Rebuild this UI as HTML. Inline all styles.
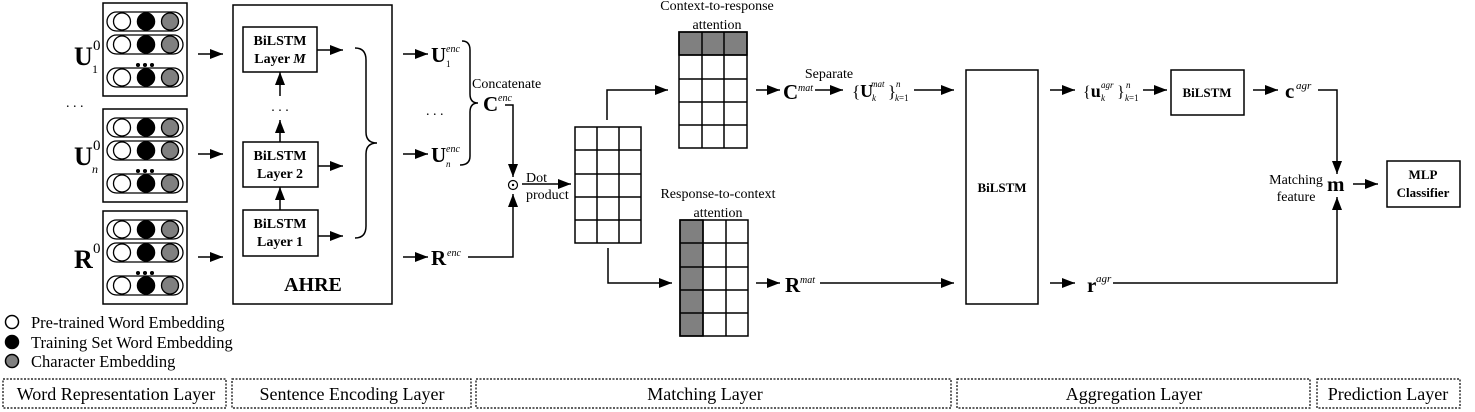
<!DOCTYPE html>
<html><head><meta charset="utf-8"><style>
body{margin:0;background:#fff}
svg{display:block}
text{font-family:"Liberation Serif",serif;fill:#000}
.b{font-weight:bold}
</style></head><body>
<svg width="1475" height="412" viewBox="0 0 1475 412" xmlns="http://www.w3.org/2000/svg">
<defs>
<marker id="a" markerWidth="13" markerHeight="10" refX="13" refY="5" orient="auto" markerUnits="userSpaceOnUse">
<path d="M0,0 L13,5 L0,10 z" fill="#000"/></marker>
<g id="pill">
<rect x="107" y="0" width="76" height="19" rx="9.5" fill="#fff" stroke="#000" stroke-width="1.3"/>
<circle cx="122" cy="9.5" r="8.5" fill="#fff" stroke="#000" stroke-width="1.3"/>
<circle cx="146" cy="9.5" r="8.5" fill="#000"/>
<circle cx="170" cy="9.5" r="8.5" fill="#808080" stroke="#000" stroke-width="1.3"/>
</g>
<g id="emb">
<rect x="103" y="0" width="84" height="93" fill="#fff" stroke="#000" stroke-width="1.5"/>
<use href="#pill" y="9"/><use href="#pill" y="32"/><use href="#pill" y="65"/>
<circle cx="138" cy="62" r="1.3" fill="#000"/><circle cx="145" cy="62" r="1.3" fill="#000"/><circle cx="152" cy="62" r="1.3" fill="#000"/>
</g>
</defs>
<g stroke="#000" stroke-width="1.5" fill="none">
<use href="#emb" y="3"/><use href="#emb" y="109"/><use href="#emb" y="211"/>
<line x1="198" y1="54" x2="223" y2="54" marker-end="url(#a)"/>
<line x1="198" y1="154" x2="223" y2="154" marker-end="url(#a)"/>
<line x1="198" y1="257" x2="223" y2="257" marker-end="url(#a)"/>
<rect x="233" y="5" width="159" height="299"/>
<rect x="243" y="27" width="74" height="45"/>
<rect x="243" y="142" width="75" height="45"/>
<rect x="243" y="210" width="75" height="46"/>
<line x1="280" y1="210" x2="280" y2="187" marker-end="url(#a)"/>
<line x1="280" y1="142" x2="280" y2="120" marker-end="url(#a)"/>
<line x1="280" y1="96" x2="280" y2="72" marker-end="url(#a)"/>
<line x1="317" y1="50" x2="343" y2="50" marker-end="url(#a)"/>
<line x1="318" y1="166" x2="343" y2="166" marker-end="url(#a)"/>
<line x1="318" y1="236" x2="343" y2="236" marker-end="url(#a)"/>
<path d="M355,48 Q366,48 366,60 L366,132 Q366,143 377,143 Q366,143 366,154 L366,226 Q366,238 355,238"/>
<line x1="403" y1="54" x2="428" y2="54" marker-end="url(#a)"/>
<line x1="403" y1="154" x2="428" y2="154" marker-end="url(#a)"/>
<line x1="403" y1="257" x2="428" y2="257" marker-end="url(#a)"/>
<path d="M462,41 Q470,41 470,50 L470,94 Q470,103 478,103 Q470,103 470,112 L470,156 Q470,165 460,165"/>
<path d="M505,105 L513,105 L513,177" marker-end="url(#a)"/>
<path d="M468,257 L513,257 L513,194" marker-end="url(#a)"/>
<line x1="522" y1="184" x2="571" y2="184" marker-end="url(#a)"/>
<rect x="575" y="127" width="66" height="116"/>
<line x1="597" y1="127" x2="597" y2="243"/><line x1="619" y1="127" x2="619" y2="243"/>
<line x1="575" y1="150" x2="641" y2="150"/><line x1="575" y1="174" x2="641" y2="174"/><line x1="575" y1="197" x2="641" y2="197"/><line x1="575" y1="220" x2="641" y2="220"/>
<path d="M607,120 L607,90 L668,90" marker-end="url(#a)"/>
<path d="M608,248 L608,283 L672,283" marker-end="url(#a)"/>
<rect x="679" y="32" width="68" height="23" fill="#808080"/>
<rect x="679" y="32" width="68" height="116"/>
<line x1="702" y1="32" x2="702" y2="148"/><line x1="724" y1="32" x2="724" y2="148"/>
<line x1="679" y1="55" x2="747" y2="55"/><line x1="679" y1="79" x2="747" y2="79"/><line x1="679" y1="102" x2="747" y2="102"/><line x1="679" y1="125" x2="747" y2="125"/>
<rect x="680" y="220" width="23" height="116" fill="#808080"/>
<rect x="680" y="220" width="68" height="116"/>
<line x1="703" y1="220" x2="703" y2="336"/><line x1="726" y1="220" x2="726" y2="336"/>
<line x1="680" y1="243" x2="748" y2="243"/><line x1="680" y1="267" x2="748" y2="267"/><line x1="680" y1="290" x2="748" y2="290"/><line x1="680" y1="313" x2="748" y2="313"/>
<line x1="756" y1="90" x2="780" y2="90" marker-end="url(#a)"/>
<line x1="815" y1="90" x2="843" y2="90" marker-end="url(#a)"/>
<line x1="914" y1="90" x2="954" y2="90" marker-end="url(#a)"/>
<line x1="756" y1="283" x2="780" y2="283" marker-end="url(#a)"/>
<line x1="820" y1="283" x2="954" y2="283" marker-end="url(#a)"/>
<rect x="966" y="70" width="72" height="234"/>
<line x1="1050" y1="90" x2="1075" y2="90" marker-end="url(#a)"/>
<line x1="1143" y1="90" x2="1167" y2="90" marker-end="url(#a)"/>
<rect x="1171" y="70" width="73" height="45"/>
<line x1="1253" y1="90" x2="1278" y2="90" marker-end="url(#a)"/>
<path d="M1318,90 L1337,90 L1337,174" marker-end="url(#a)"/>
<line x1="1050" y1="283" x2="1075" y2="283" marker-end="url(#a)"/>
<path d="M1113,283 L1337,283 L1337,197" marker-end="url(#a)"/>
<line x1="1353" y1="184" x2="1378" y2="184" marker-end="url(#a)"/>
<rect x="1387" y="161" width="73" height="46"/>
<circle cx="12" cy="322" r="6.5" fill="#fff"/>
<circle cx="12" cy="342" r="6.5" fill="#000"/>
<circle cx="12" cy="361" r="6.5" fill="#808080"/>
<g stroke-dasharray="2,1.5" stroke-width="1.2">
<rect x="3" y="379" width="223" height="29"/>
<rect x="232" y="379" width="239" height="29"/>
<rect x="476" y="379" width="475" height="29"/>
<rect x="957" y="379" width="353" height="29"/>
<rect x="1317" y="379" width="143" height="29"/>
</g>
</g>
<circle cx="513" cy="185" r="4.5" fill="none" stroke="#000" stroke-width="1.2"/><circle cx="513" cy="185" r="1.2" fill="#000"/>
<g font-size="26" class="b">
<text x="74" y="65">U<tspan font-size="15" font-weight="normal" x="93" y="50">0</tspan><tspan font-size="12" font-weight="normal" x="92" y="73">1</tspan></text>
<text x="74" y="165">U<tspan font-size="15" font-weight="normal" x="93" y="150">0</tspan><tspan font-size="12" font-weight="normal" font-style="italic" x="92" y="173">n</tspan></text>
<text x="74" y="268">R<tspan font-size="15" font-weight="normal" x="93" y="253">0</tspan></text>
</g>
<text x="66" y="107" font-size="14">. . .</text>
<g font-size="14" class="b" text-anchor="middle">
<text x="280" y="45">BiLSTM</text><text x="280" y="63">Layer <tspan font-style="italic">M</tspan></text>
<text x="280" y="160">BiLSTM</text><text x="280" y="178">Layer 2</text>
<text x="280" y="228">BiLSTM</text><text x="280" y="246">Layer 1</text>
</g>
<text x="280" y="111" font-size="14" text-anchor="middle">. . .</text>
<text x="313" y="291" font-size="20" class="b" text-anchor="middle">AHRE</text>
<g font-size="21" class="b">
<text x="431" y="62">U<tspan font-size="10" font-weight="normal" font-style="italic" x="446" y="52">enc</tspan><tspan font-size="9" font-weight="normal" x="446" y="67">1</tspan></text>
<text x="431" y="162">U<tspan font-size="10" font-weight="normal" font-style="italic" x="446" y="152">enc</tspan><tspan font-size="9" font-weight="normal" font-style="italic" x="446" y="167">n</tspan></text>
<text x="431" y="265">R<tspan font-size="10" font-weight="normal" font-style="italic" x="447" y="256">enc</tspan></text>
<text x="483" y="111">C<tspan font-size="10" font-weight="normal" font-style="italic" x="498" y="101">enc</tspan></text>
<text x="783" y="99">C<tspan font-size="10" font-weight="normal" font-style="italic" x="798" y="91">mat</tspan></text>
<text x="785" y="292">R<tspan font-size="10" font-weight="normal" font-style="italic" x="800" y="283">mat</tspan></text>
<text x="1285" y="98">c<tspan font-size="11" font-weight="normal" font-style="italic" x="1296" y="89">agr</tspan></text>
<text x="1087" y="292">r<tspan font-size="11" font-weight="normal" font-style="italic" x="1096" y="282">agr</tspan></text>
<text x="1327" y="191">m</text>
</g>
<text x="426" y="115" font-size="14">. . .</text>
<text x="472" y="88" font-size="14">Concatenate</text>
<text x="526" y="182" font-size="14">Dot</text>
<text x="526" y="199" font-size="14">product</text>
<g font-size="14" text-anchor="middle">
<text x="717" y="10">Context-to-response</text><text x="717" y="29">attention</text>
<text x="718" y="198">Response-to-context</text><text x="718" y="217">attention</text>
<text x="829" y="78">Separate</text>
<text x="1296" y="184">Matching</text><text x="1296" y="201">feature</text>
</g>
<text x="852" y="97" font-size="17">{<tspan class="b" font-size="18">U</tspan><tspan font-size="9" font-style="italic" x="871" y="87">mat</tspan><tspan font-size="9" font-style="italic" x="872" y="101">k</tspan><tspan x="888" y="97">}</tspan><tspan font-size="9" font-style="italic" x="896" y="87">n</tspan><tspan font-size="9" x="895" y="101"><tspan font-style="italic">k</tspan>=1</tspan></text>
<text x="1083" y="97" font-size="16">{<tspan class="b" font-size="18">u</tspan><tspan font-size="9" font-style="italic" x="1101" y="88">agr</tspan><tspan font-size="9" font-style="italic" x="1101" y="101">k</tspan><tspan x="1117" y="97">}</tspan><tspan font-size="9" font-style="italic" x="1126" y="88">n</tspan><tspan font-size="9" x="1125" y="101"><tspan font-style="italic">k</tspan>=1</tspan></text>
<g font-size="13" class="b" text-anchor="middle">
<text x="1002" y="192">BiLSTM</text>
<text x="1207" y="97">BiLSTM</text>
<text x="1423" y="179">MLP</text><text x="1423" y="197">Classifier</text>
</g>
<g font-size="16.5">
<text x="31" y="328">Pre-trained Word Embedding</text>
<text x="31" y="348">Training Set Word Embedding</text>
<text x="31" y="367">Character Embedding</text>
</g>
<g font-size="18" text-anchor="middle">
<text x="116" y="400">Word Representation Layer</text>
<text x="352" y="400">Sentence Encoding Layer</text>
<text x="705" y="400">Matching Layer</text>
<text x="1134" y="400">Aggregation Layer</text>
<text x="1388" y="400">Prediction Layer</text>
</g>
</svg>
</body></html>
